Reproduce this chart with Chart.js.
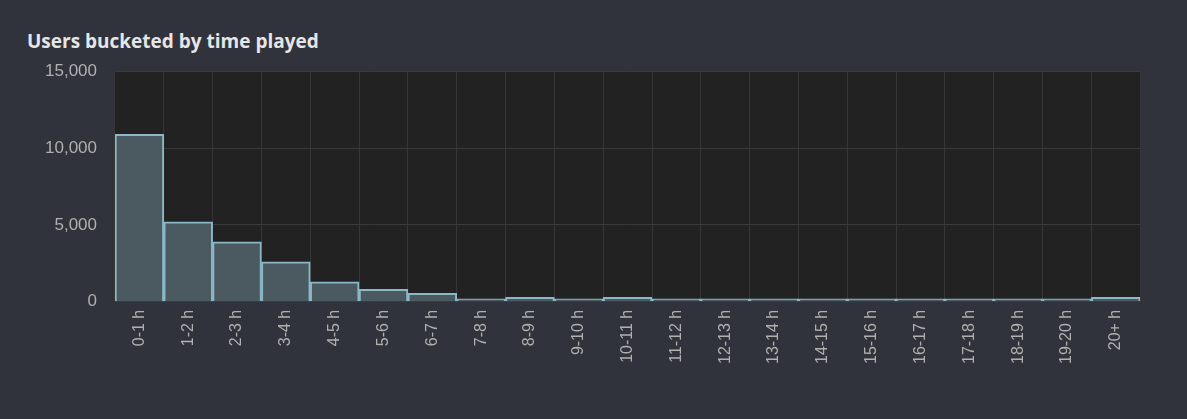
<!DOCTYPE html>
<html>
<head>
<script src="https://cdn.jsdelivr.net/npm/chart.js@4"></script>
<style>
body { margin: 0; background: #30333b; font-family: "Open Sans", sans-serif; }
#title { position: absolute; left: 27px; top: 28px; color: #e6e6e6; font-weight: bold; font-size: 19px; }
#wrap { position: absolute; left: 27px; top: 43px; width: 1116px; height: 329px; }
</style>
</head>
<body>
<div id="title">Users bucketed by time played</div>
<div id="wrap"><canvas id="c"></canvas></div>
<script>
const buckets = ['0-1 h','1-2 h','2-3 h','3-4 h','4-5 h','5-6 h','6-7 h','7-8 h','8-9 h','9-10 h','10-11 h','11-12 h','12-13 h','13-14 h','14-15 h','15-16 h','16-17 h','17-18 h','18-19 h','19-20 h','20+ h'];
const users = [10900, 5200, 3900, 2600, 1300, 800, 550, 60, 280, 60, 280, 40, 40, 40, 40, 40, 40, 40, 40, 40, 280];
const yTicks = [0, 5000, 10000, 15000];

const areaBg = {
  id: 'areaBg',
  beforeDraw(chart) {
    const a = chart.chartArea, g = chart.ctx;
    g.save(); g.fillStyle = '#222222';
    g.fillRect(a.left, a.top, a.right - a.left, a.bottom - a.top);
    g.restore();
  }
};

new Chart(document.getElementById('c'), {
  type: 'bar',
  data: {
    labels: buckets,
    datasets: [{
      data: users,
      backgroundColor: '#4b5a60',
      borderColor: '#8bb8c6',
      borderWidth: 2,
      minBarLength: 3,
      categoryPercentage: 1,
      barPercentage: 1
    }]
  },
  options: {
    responsive: true,
    maintainAspectRatio: false,
    animation: false,
    plugins: { legend: { display: false }, tooltip: { enabled: false } },
    scales: {
      x: {
        grid: { color: '#363636', drawTicks: false },
        border: { display: false },
        ticks: { color: '#b0b0b0', font: { size: 16 }, maxRotation: 90, minRotation: 90, padding: 8 }
      },
      y: {
        min: 0, max: 15000,
        afterBuildTicks: s => { s.ticks = yTicks.map(v => ({ value: v })); },
        grid: { color: '#3a3a3a', drawTicks: false },
        border: { display: false },
        ticks: { color: '#b0b0b0', font: { size: 17 }, padding: 18, callback: v => v.toLocaleString('en-US') }
      }
    }
  },
  plugins: [areaBg]
});
</script>
</body>
</html>
